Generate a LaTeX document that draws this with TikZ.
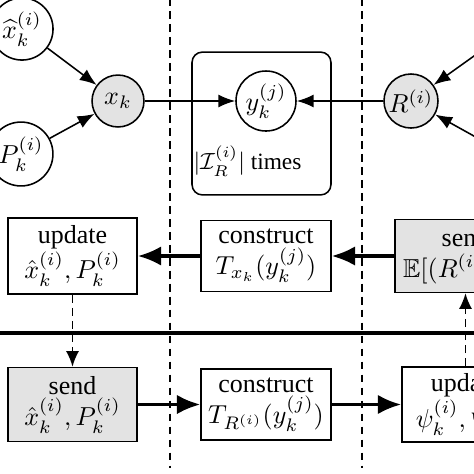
\documentclass[tikz,border=0pt]{standalone}
\usepackage[no-math]{fontspec}
\setmainfont{Liberation Serif}
\usepackage{amssymb}
\usetikzlibrary{arrows.meta}
\begin{document}
\begin{tikzpicture}[x=0.385pt,y=-0.385pt,
  var/.style={circle,draw,line width=0.6pt,inner sep=0pt},
  obs/.style={var,fill=gray!22},
  box/.style={draw,line width=0.6pt,align=center,inner sep=1pt},
  gbox/.style={box,fill=gray!22},
  thinarr/.style={line width=0.6pt,-{Latex[length=6.5pt,width=5pt]}},
  thickarr/.style={line width=1.3pt,-{Latex[length=9pt,width=7.5pt]}},
  dasharr/.style={line width=0.6pt,dash pattern=on 3pt off 2pt,-{Latex[length=6pt,width=5pt]}},
  sepline/.style={line width=0.6pt,dash pattern=on 3pt off 2pt},
  hline/.style={line width=1.5pt}]
\useasboundingbox (0,0) rectangle (474,474);
\clip (0,0) rectangle (474,474);
% separators
\coordinate (s1t) at (170,-2); \coordinate (s1b) at (170,468);
\coordinate (s2t) at (362,-2); \coordinate (s2b) at (362,468);
\coordinate (hl) at (-5,333); \coordinate (hr) at (480,333);
\draw[sepline] (s1t) -- (s1b);
\draw[sepline] (s2t) -- (s2b);
\draw[hline] (hl) -- (hr);
% graphical model
\node[var,minimum size=23.9pt] (xh) at (22,29) {$\widehat{x}_k^{(i)}$};
\node[var,minimum size=24.6pt] (P) at (21,154) {$P_k^{(i)}$};
\node[obs,minimum size=20pt] (xk) at (118,101) {$x_k$};
\node[draw,fill=white,rounded corners=4pt,line width=0.6pt,minimum width=53.5pt,minimum height=55pt] (plate) at (261.5,123.5) {};
\node[var,fill=white,minimum size=23.1pt] (yk) at (266,101) {$y_k^{(j)}$};
\node[inner sep=1pt,font=\small] (times) at (247.5,161) {$|\mathcal{I}_R^{(i)}|$ times};
\node[obs,minimum size=20.8pt] (R) at (411,101) {$R^{(i)}$};
\coordinate (q1) at (509,31);
\coordinate (q2) at (508,155);
\draw[thinarr] (xh) -- (xk);
\draw[thinarr] (P) -- (xk);
\draw[thinarr] (xk) -- (yk);
\draw[thinarr] (R) -- (yk);
\draw[thinarr] (q1) -- (R);
\draw[thinarr] (q2) -- (R);
% top row
\node[box,minimum width=49.7pt,minimum height=29.3pt] (upd1) at (72.5,256) {update\\$\hat{x}_k^{(i)}, P_k^{(i)}$};
\node[box,minimum width=50pt,minimum height=27.3pt] (con1) at (266,256) {construct\\$T_{x_k}(y_k^{(j)})$};
\node[gbox,minimum width=54.3pt,minimum height=28.1pt] (send1) at (465.5,256) {send\\$\mathbb{E}[(R^{(i)})^{-1}]$};
% bottom row
\node[gbox,minimum width=49.7pt,minimum height=28.5pt] (send2) at (72.5,404.5) {send\\$\hat{x}_k^{(i)}, P_k^{(i)}$};
\node[box,minimum width=50pt,minimum height=27.3pt] (con2) at (266,404.5) {construct\\$T_{R^{(i)}}(y_k^{(j)})$};
\node[box,minimum width=48.9pt,minimum height=28.9pt] (upd2) at (465.5,404.5) {update\\$\psi_k^{(i)}, \Psi_k^{(i)}$};
\draw[thickarr] (send1) -- (con1);
\draw[thickarr] (con1) -- (upd1);
\draw[thickarr] (send2) -- (con2);
\draw[thickarr] (con2) -- (upd2);
\draw[dasharr] (upd1.south) -- (send2.north);
\draw[dasharr] (upd2.north) -- (send1.south);
\end{tikzpicture}
\end{document}
